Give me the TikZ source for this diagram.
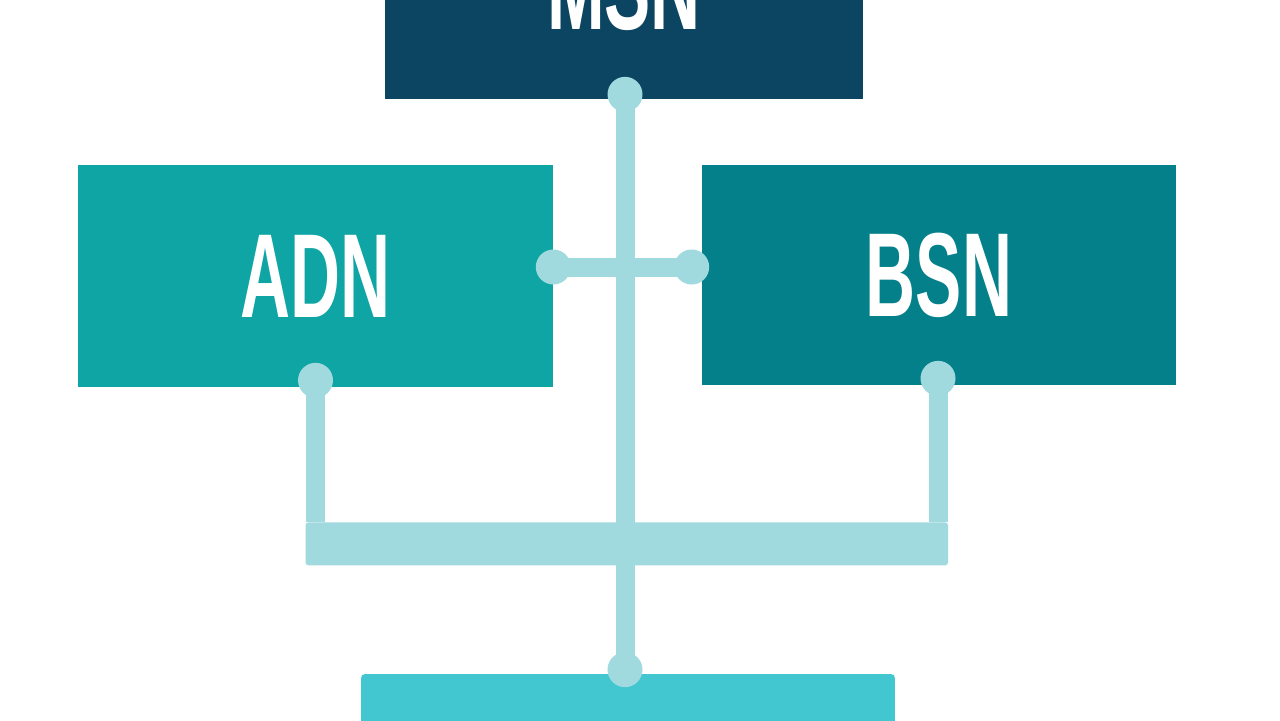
\documentclass[tikz,border=0pt]{standalone}
\usepackage{fontspec}
\setmainfont{Liberation Sans}
\usetikzlibrary{calc}
\definecolor{msncol}{HTML}{0B4561}
\definecolor{adncol}{HTML}{0FA5A4}
\definecolor{bsncol}{HTML}{03808A}
\definecolor{botcol}{HTML}{42C6CF}
\definecolor{linkcol}{HTML}{A0D9DE}
\def\width{1280}
\def\hauteur{720}
\newcommand{\boxlabel}[1]{\scalebox{0.58}[1]{\bfseries #1}}

\begin{document}
\begin{tikzpicture}[x=0.02cm, y=-0.02cm,
  netbox/.style={rectangle, inner sep=0pt, minimum width=9.5cm, minimum height=4.44cm,
    text=white, font=\fontsize{68}{68}\selectfont},
  link/.style={draw=linkcol, line width=0.38cm},
  joint/.style={circle, fill=linkcol, minimum size=0.7cm, inner sep=0pt}]
\useasboundingbox (0,0) rectangle (\width,\hauteur);
\clip (0,0) rectangle (\width,\hauteur);
\fill[white] (0,0) rectangle (\width,\hauteur);

\node[netbox, fill=msncol, minimum width=9.56cm] (msn) at (624,-12) {\boxlabel{MSN}};
\node[netbox, fill=adncol] (adn) at (315.5,276) {\boxlabel{ADN}};
\node[netbox, fill=bsncol, minimum width=9.48cm, minimum height=4.4cm] (bsn) at (939,275) {\boxlabel{BSN}};
\node[netbox, fill=botcol, minimum width=10.68cm, rounded corners=0.08cm] (bot) at (628,785) {};

\coordinate (msndot) at ($(msn.south)+(1,-5)$);
\coordinate (botdot) at ($(bot.north)+(-3,-4)$);
\coordinate (adndot) at ($(adn.south)+(0,-7)$);
\coordinate (bsndot) at ($(bsn.south)+(-1,-7)$);
\coordinate (adnside) at ($(adn.east)+(0,-9)$);
\coordinate (bsnside) at ($(bsn.west |- adnside)+(-10,0)$);
\coordinate (barL) at ($(adndot)+(-10,142)$);
\coordinate (barR) at ($(bsndot)+(10,187)$);

% trunk and cross link
\draw[link] (msndot) -- (botdot);
\draw[link] (adnside) -- (bsnside);
% bracket under ADN and BSN
\draw[link] (adndot) -- (adndot |- barL);
\draw[link] (bsndot) -- (bsndot |- barL);
\fill[linkcol, rounded corners=0.06cm] (barL) rectangle (barR);

\foreach \p in {msndot,botdot,adndot,bsndot,adnside,bsnside}
  \node[joint] at (\p) {};
\end{tikzpicture}
\end{document}
